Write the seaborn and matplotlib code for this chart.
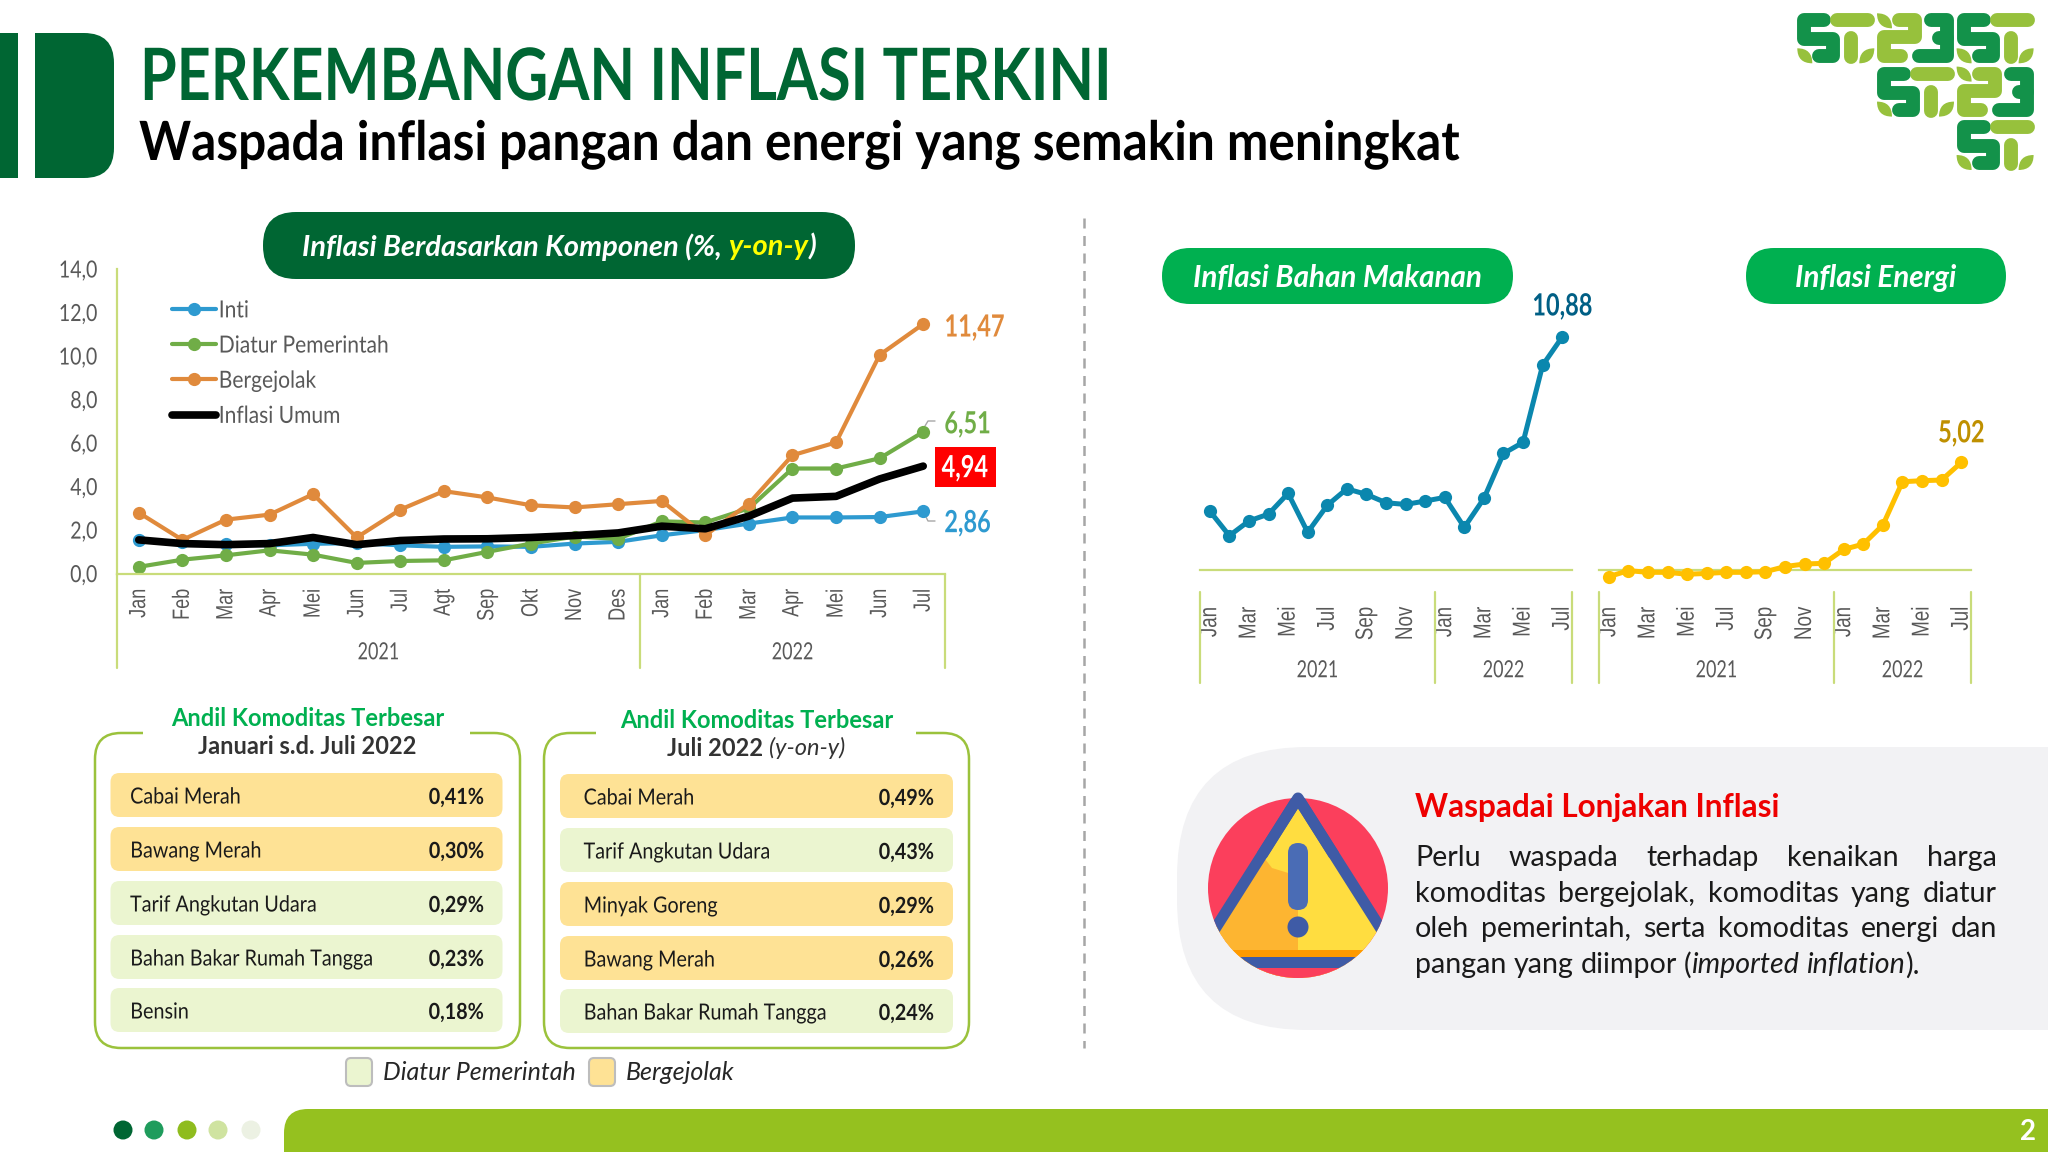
import matplotlib
matplotlib.use("Agg")
import matplotlib.pyplot as plt
import numpy as np
import pandas as pd
import seaborn as sns
from matplotlib.lines import Line2D
from matplotlib.patches import Circle, FancyBboxPatch, PathPatch, Polygon, Rectangle
from matplotlib.path import Path
from matplotlib.patheffects import AbstractPathEffect
from matplotlib.transforms import Affine2D

MONTHS_LONG = ["Jan", "Feb", "Mar", "Apr", "Mei", "Jun", "Jul", "Agt", "Sep", "Okt", "Nov", "Des",
               "Jan", "Feb", "Mar", "Apr", "Mei", "Jun", "Jul"]
MONTHS_SHORT = ["Jan", "", "Mar", "", "Mei", "", "Jul", "", "Sep", "", "Nov", "",
                "Jan", "", "Mar", "", "Mei", "", "Jul"]
Y_TICKS = [0, 2, 4, 6, 8, 10, 12, 14]

INTI = [1.55, 1.45, 1.35, 1.30, 1.37, 1.40, 1.30, 1.23, 1.25, 1.23, 1.38, 1.46, 1.76, 2.00, 2.30, 2.58, 2.58, 2.60, 2.86]
DIATUR = [0.31, 0.64, 0.84, 1.07, 0.87, 0.49, 0.58, 0.61, 1.00, 1.38, 1.70, 1.60, 2.40, 2.35, 3.00, 4.83, 4.83, 5.30, 6.51]
BERGEJOLAK = [2.80, 1.55, 2.48, 2.71, 3.65, 1.66, 2.94, 3.79, 3.50, 3.14, 3.04, 3.19, 3.34, 1.76, 3.22, 5.44, 6.03, 10.05, 11.47]
UMUM = [1.55, 1.38, 1.33, 1.38, 1.66, 1.33, 1.52, 1.59, 1.60, 1.66, 1.75, 1.87, 2.18, 2.06, 2.64, 3.47, 3.55, 4.35, 4.94]
BAHAN_MAKANAN = [2.75, 1.60, 2.29, 2.61, 3.58, 1.76, 3.02, 3.79, 3.53, 3.14, 3.06, 3.22, 3.39, 1.99, 3.34, 5.44, 5.96, 9.56, 10.88]
ENERGI = [-0.31, -0.03, -0.11, -0.11, -0.20, -0.16, -0.11, -0.11, -0.08, 0.16, 0.28, 0.31, 0.96, 1.21, 2.10, 4.12, 4.17, 4.20, 5.02]

ANDIL_YTD = ["Cabai Merah", "Bawang Merah", "Tarif Angkutan Udara", "Bahan Bakar Rumah Tangga", "Bensin"]
ANDIL_YTD_VAL = ["0,41%", "0,30%", "0,29%", "0,23%", "0,18%"]
ANDIL_YTD_KIND = ["b", "b", "d", "d", "d"]
ANDIL_YOY = ["Cabai Merah", "Tarif Angkutan Udara", "Minyak Goreng", "Bawang Merah", "Bahan Bakar Rumah Tangga"]
ANDIL_YOY_VAL = ["0,49%", "0,43%", "0,29%", "0,26%", "0,24%"]
ANDIL_YOY_KIND = ["b", "d", "b", "b", "d"]

DARK_GREEN = "#006633"
MID_GREEN = "#00b050"
AXIS_GREEN = "#c9dc7a"
GRAY = "#595959"
ROW_COLORS = {"b": "#fee295", "d": "#ebf5d0"}
ARIAL = ["Liberation Sans"]
BODY = ["Lato", "DejaVu Sans"]

sns.set_theme(style="white")
plt.rcParams["font.family"] = BODY

W, H = 2048, 1152
fig = plt.figure(figsize=(W / 100, H / 100), dpi=100, facecolor="white")
bg = fig.add_axes([0, 0, 1, 1], zorder=0)
bg.set_xlim(0, W)
bg.set_ylim(H, 0)
bg.axis("off")
renderer = fig.canvas.get_renderer()


class Squeeze(AbstractPathEffect):
    # the source slide is squashed sideways, so glyphs get scaled around one edge of the text
    def __init__(self, sx=1.0, anchor="left", width=None):
        super().__init__()
        self.sx, self.anchor, self.width = sx, anchor, width

    def draw_path(self, renderer, gc, tpath, affine, rgbFace=None):
        box = affine.transform_path(tpath).get_extents()
        pivot = {"left": box.x0, "center": (box.x0 + box.x1) / 2, "right": box.x1}[self.anchor]
        sx = self.width / box.width if self.width else self.sx
        scaled = affine + Affine2D().translate(-pivot, 0).scale(sx, 1).translate(pivot, 0)
        renderer.draw_path(gc, tpath, scaled, rgbFace)


def px_axes(x0, x1, top, bottom):
    ax = fig.add_axes([x0 / W, 1 - bottom / H, (x1 - x0) / W, (bottom - top) / H], zorder=2)
    ax.patch.set_alpha(0)
    return ax


def round_box(x0, y0, x1, y1, radius, **kwargs):
    patch = FancyBboxPatch((x0 + radius, y0 + radius), x1 - x0 - 2 * radius, y1 - y0 - 2 * radius,
                           boxstyle=f"round,pad={radius},rounding_size={radius}", **kwargs)
    bg.add_patch(patch)
    return patch


def runs(x, y, pieces, center=False, **kwargs):
    # pieces are (text, extra kwargs, gap after)
    items = []
    cursor = x
    for text, extra, gap in pieces:
        t = bg.text(cursor, y, text, va="center", ha="left", **kwargs, **extra)
        cursor += t.get_window_extent(renderer).width + gap
        items.append(t)
    if center:
        shift = (cursor - x) / 2
        for t in items:
            t.set_x(t.get_position()[0] - shift)


def justified(x0, x1, y, line, **kwargs):
    words = [bg.text(x0, y, w, va="center", ha="left", **kwargs) for w in line.split()]
    widths = [w.get_window_extent(renderer).width for w in words]
    gap = (x1 - x0 - sum(widths)) / (len(words) - 1)
    cursor = x0
    for word, width in zip(words, widths):
        word.set_x(cursor)
        cursor += width + gap


def draw_series(ax, values, color, label, size=9.5, width=3.0, marker="o"):
    frame = pd.DataFrame({"pos": np.arange(len(values)), "value": values})
    sns.lineplot(data=frame, x="pos", y="value", ax=ax, color=color, linewidth=width, marker=marker,
                 markersize=size, markeredgecolor=color, markeredgewidth=0, label=label,
                 estimator=None, sort=False, legend=False, clip_on=False)


def month_axis(ax, labels, split, font_size, year_y, line_bottom, line_top):
    # labels sit under the baseline, 2021 and 2022 are split by short rules
    n = len(labels)
    ax.set_xlim(-0.5, n - 0.5)
    ax.set_xticks(range(n))
    ax.set_xticklabels(labels, rotation=90, family=ARIAL, fontsize=font_size, color=GRAY)
    for tick_label in ax.get_xticklabels():
        tick_label.set_path_effects([Squeeze(1.3, "center")])
    ax.tick_params(axis="x", length=0)
    trans = ax.get_xaxis_transform()
    for xpos in (-0.5, split - 0.5, n - 0.5):
        ax.plot([xpos, xpos], [line_top, line_bottom], transform=trans, color=AXIS_GREEN, lw=1.6, clip_on=False)
    year_style = dict(transform=trans, ha="center", va="center", fontsize=17, color=GRAY,
                      path_effects=[Squeeze(0.76, "center")])
    ax.text((split - 1) / 2, year_y, "2021", **year_style)
    ax.text((split + n - 1) / 2, year_y, "2022", **year_style)
    ax.set_xlabel("")
    ax.set_ylabel("")


# header
bg.add_patch(Rectangle((0, 33), 18, 145, color=DARK_GREEN, lw=0))
round_box(35, 33, 114, 178, 30, facecolor=DARK_GREEN, edgecolor="none")
bg.add_patch(Rectangle((35, 33), 40, 145, color=DARK_GREEN, lw=0))
bg.text(139, 100, "PERKEMBANGAN INFLASI TERKINI", fontsize=52, fontweight="bold", color=DARK_GREEN, va="baseline",
        path_effects=[Squeeze(anchor="left", width=962)])
bg.text(139, 160, "Waspada inflasi pangan dan energi yang semakin meningkat", fontsize=39, fontweight="bold",
        color="black", va="baseline", path_effects=[Squeeze(anchor="left", width=1320)])


# logo tiles
LOGO_DARK = "#13924a"
LOGO_LIGHT = "#97c13c"


def stroke(points, color, ox, oy):
    xy = [(ox + a, oy + b) for a, b in points]
    path = Path(xy, [Path.MOVETO] + [Path.LINETO] * (len(xy) - 1))
    bg.add_patch(PathPatch(path, facecolor="none", edgecolor=color, lw=10, capstyle="round", joinstyle="round"))


def leaf(x0, y0, x1, y1, color, ox, oy, flip=False):
    a, b = (x0, y1), (x1, y0)
    if flip:
        a, b = (x0, y0), (x1, y1)
    mid1 = (a[0], b[1])
    mid2 = (b[0], a[1])
    verts = [a, mid1, b, mid2, a]
    verts = [(ox + p, oy + q) for p, q in verts]
    codes = [Path.MOVETO, Path.CURVE3, Path.CURVE3, Path.CURVE3, Path.CURVE3]
    bg.add_patch(PathPatch(Path(verts, codes), facecolor=color, edgecolor="none"))


def logo_st(ox, oy):
    stroke([(27, 7), (7, 7), (7, 26), (36, 26), (36, 43), (22, 43)], LOGO_DARK, ox, oy)
    leaf(0, 35, 15, 50, LOGO_LIGHT, ox, oy, flip=True)
    stroke([(40, 7), (71, 7)], LOGO_LIGHT, ox, oy)
    stroke([(54, 25), (54, 44)], LOGO_LIGHT, ox, oy)
    leaf(62, 35, 77, 50, LOGO_LIGHT, ox, oy)


def logo_23(ox, oy):
    leaf(0, 0, 15, 15, LOGO_LIGHT, ox, oy, flip=True)
    stroke([(22, 7), (38, 7), (38, 24), (7, 24), (7, 43), (24, 43)], LOGO_LIGHT, ox, oy)
    stroke([(54, 7), (70, 7), (70, 25), (62, 25)], LOGO_DARK, ox, oy)
    stroke([(70, 25), (70, 43), (42, 43)], LOGO_DARK, ox, oy)


for ox, oy, tile in [(0, 0, logo_st), (79.7, 0, logo_23), (159.3, 0, logo_st),
                     (79.7, 53.3, logo_st), (159.3, 53.3, logo_23), (159.3, 106.7, logo_st)]:
    tile(1797.3 + ox, 13.3 + oy)

# pills and divider
round_box(263, 212, 855, 279, 33, facecolor=DARK_GREEN, edgecolor="none")
pill_style = dict(fontweight="bold", fontstyle="italic")
runs(559, 247, [("Inflasi Berdasarkan Komponen (%,", {"color": "white"}, 7),
                ("y-on-y", {"color": "#ffff00"}, 0), (")", {"color": "white"}, 0)], center=True, fontsize=21, **pill_style)
round_box(1162, 248, 1513, 304, 28, facecolor=MID_GREEN, edgecolor="none")
bg.text(1337, 278, "Inflasi Bahan Makanan", color="white", ha="center", va="center", fontsize=21.3, **pill_style)
round_box(1746, 248, 2006, 304, 28, facecolor=MID_GREEN, edgecolor="none")
bg.text(1876, 278, "Inflasi Energi", color="white", ha="center", va="center", fontsize=21.3, **pill_style)
bg.plot([1084, 1084], [218, 1048], color="#a6a6a6", lw=1.8, ls=(0, (4, 3)))

# main chart
main = px_axes(117, 945, 269, 573.6)
draw_series(main, INTI, "#2e9ad0", "Inti")
draw_series(main, DIATUR, "#70ad47", "Diatur Pemerintah")
draw_series(main, BERGEJOLAK, "#e08a3c", "Bergejolak")
draw_series(main, UMUM, "black", "Inflasi Umum", width=5.5, marker=None)
main.set_ylim(0, 14)
main.set_yticks(Y_TICKS)
main.set_yticklabels([f"{v:.1f}".replace(".", ",") for v in Y_TICKS], fontsize=17, color=GRAY)
for tick_label in main.get_yticklabels():
    tick_label.set_path_effects([Squeeze(0.83, "right")])
main.tick_params(axis="y", length=0, pad=14)
main.tick_params(axis="x", pad=11)
sns.despine(ax=main)
for side in ("left", "bottom"):
    main.spines[side].set_color(AXIS_GREEN)
    main.spines[side].set_linewidth(1.6)
month_axis(main, MONTHS_LONG, 12, 13, -0.26, -0.31, 0)
handles = [Line2D([], [], color=c, lw=w, marker=m, markersize=9.5, markeredgewidth=0, label=name)
           for c, w, m, name in [("#2e9ad0", 3, "o", "Inti"), ("#70ad47", 3, "o", "Diatur Pemerintah"),
                                 ("#e08a3c", 3, "o", "Bergejolak"), ("black", 5.5, None, "Inflasi Umum")]]
leg = main.legend(handles=handles, loc="upper left", bbox_to_anchor=(0.067, 0.897), frameon=False, fontsize=17,
                  labelcolor=GRAY, handlelength=1.85, handletextpad=0.1, labelspacing=0.6, borderpad=0, borderaxespad=0)
for leg_text in leg.get_texts():
    leg_text.set_path_effects([Squeeze(0.89, "left")])


def end_label(ax, value, dx, color, size=22, dy=0):
    ax.annotate(f"{value:.2f}".replace(".", ","), (18, value), xytext=(dx, dy), textcoords="offset points",
                color=color, fontsize=size, fontweight="bold", va="center", ha="left", annotation_clip=False,
                path_effects=[Squeeze(0.77, "left")])


end_label(main, BERGEJOLAK[-1], 15, "#e08a3c", dy=-2.5)
end_label(main, DIATUR[-1], 15, "#70ad47", dy=5.5)
end_label(main, INTI[-1], 15, "#2e9ad0", dy=-8.5)
bg.add_patch(Rectangle((935, 447), 61, 40, color="#ff0000", lw=0, zorder=3))
main.annotate(f"{UMUM[-1]:.2f}".replace(".", ","), (18, UMUM[-1]), xytext=(30, -1.5), textcoords="offset points",
              color="white", fontsize=22, fontweight="bold", ha="center", va="center", annotation_clip=False,
              zorder=6, path_effects=[Squeeze(0.77, "center")])
main.set_zorder(4)
bg.plot([925, 928, 935], [426, 421, 421], color="#a6a6a6", lw=1, zorder=5)
bg.plot([925, 928, 935], [515, 521, 521], color="#a6a6a6", lw=1, zorder=5)

# right charts, same scale on both
for x0, x1, values, color, label_color, lift in [(1200, 1572, BAHAN_MAKANAN, "#0b87ae", "#005f85", 22),
                                                 (1599, 1971, ENERGI, "#ffc000", "#bf9000", 21)]:
    ax = px_axes(x0, x1, 313, 591.4)
    draw_series(ax, values, color, None, size=9.5, width=3.6)
    ax.set_ylim(-1, 12)
    ax.set_yticks([])
    sns.despine(ax=ax, left=True)
    ax.spines["bottom"].set_position(("data", 0))
    ax.spines["bottom"].set_color(AXIS_GREEN)
    ax.spines["bottom"].set_linewidth(1.6)
    month_axis(ax, MONTHS_SHORT, 12, 13.5, -0.285, -0.33, -0.003)
    ax.spines["bottom"].set_zorder(0)
    ax.tick_params(axis="x", pad=26.5)
    ax.annotate(f"{values[-1]:.2f}".replace(".", ","), (18, values[-1]), xytext=(0, lift), textcoords="offset points",
                color=label_color, fontsize=22, fontweight="bold", ha="center", va="center", annotation_clip=False,
                path_effects=[Squeeze(0.77, "center")])


# contribution tables
def table(x0, x1, gap0, gap1, title_y, sub_pieces, rows_x0, rows_x1, tops, names, values, kinds, name_x, value_x):
    round_box(x0, 733, x1, 1048, 26, facecolor="white", edgecolor="#9bc23c", lw=1.8)
    bg.add_patch(Rectangle((gap0, 725), gap1 - gap0, 16, color="white", lw=0, zorder=2))
    center = (x0 + x1) / 2
    bg.text(center, title_y, "Andil Komoditas Terbesar", fontsize=17, fontweight="bold", color=MID_GREEN,
            ha="center", va="center", zorder=3)
    runs(center, title_y + 28, sub_pieces, center=True, fontsize=17, color="#333333", zorder=3)
    for top, name, value, kind in zip(tops, names, values, kinds):
        round_box(rows_x0, top, rows_x1, top + 44, 9, facecolor=ROW_COLORS[kind], edgecolor="none")
        bg.text(name_x, top + 24.5, name, fontsize=16, color="#1a1a1a", va="center",
                path_effects=[Squeeze(0.89, "left")])
        bg.text(value_x, top + 24.5, value, fontsize=16, fontweight="bold", color="#1a1a1a", va="center", ha="right",
                path_effects=[Squeeze(0.89, "right")])


table(95, 520, 143, 470, 718, [("Januari s.d. Juli 2022", {"fontweight": "bold"}, 0)], 110.5, 502.5,
      [773, 827, 881, 935, 988], ANDIL_YTD, ANDIL_YTD_VAL, ANDIL_YTD_KIND, 130, 484)
table(544, 969, 596, 916, 720, [("Juli 2022", {"fontweight": "bold"}, 6), ("(y-on-y)", {"fontstyle": "italic"}, 0)],
      560, 953, [774, 828, 882, 936, 989], ANDIL_YOY, ANDIL_YOY_VAL, ANDIL_YOY_KIND, 583.5, 934)

round_box(346, 1058, 372, 1086, 5, facecolor=ROW_COLORS["d"], edgecolor="#bdbdbd", lw=1.5)
round_box(589, 1058, 615, 1086, 5, facecolor=ROW_COLORS["b"], edgecolor="#bdbdbd", lw=1.5)
bg.text(383, 1072, "Diatur Pemerintah", fontsize=18, fontstyle="italic", color="#262626", va="center")
bg.text(626, 1073, "Bergejolak", fontsize=18, fontstyle="italic", color="#262626", va="center")

# warning panel
BLUE_ICON = "#3f5ba6"
round_box(1177, 747, 2200, 1030, 130, facecolor="#f2f2f4", edgecolor="none")
disc = Circle((1298, 888), 90, color="#fb3f5c", lw=0)
bg.add_patch(disc)
tri_fill = Polygon([(1298, 798), (1170, 1000), (1426, 1000)], closed=True, facecolor="#ffdd40", edgecolor="none", zorder=3)
bg.add_patch(tri_fill)
tri_fill.set_clip_path(disc)
shade = Polygon([(1262, 855), (1272, 868), (1298, 876), (1298, 1000), (1170, 1000)], closed=True, facecolor="#fdb531",
                edgecolor="none", zorder=3.1)
bg.add_patch(shade)
shade.set_clip_path(disc)
tri_line = Polygon([(1298, 798), (1170, 1000), (1426, 1000)], closed=True, facecolor="none", edgecolor=BLUE_ICON,
                   lw=8, joinstyle="round", zorder=3.2)
bg.add_patch(tri_line)
tri_line.set_clip_path(disc)
bg.plot([1262, 1298, 1334], [855, 798, 855], color=BLUE_ICON, lw=8, solid_joinstyle="round", solid_capstyle="butt",
        zorder=3.5)
for y0, y1, col, zo in [(950, 957, "#ff9a00", 4), (957, 968, BLUE_ICON, 4), (968, 990, "#fb3f5c", 4)]:
    band = Rectangle((1170, y0), 260, y1 - y0, color=col, lw=0, zorder=zo)
    bg.add_patch(band)
    band.set_clip_path(disc)
round_box(1288, 843, 1308, 910, 10, facecolor="#4a6cb5", edgecolor="none", zorder=5)
bg.add_patch(Circle((1298, 927), 10.5, color=BLUE_ICON, lw=0, zorder=5))

bg.text(1415, 808, "Waspadai Lonjakan Inflasi", fontsize=22.7, fontweight="bold", color="#ee0000", va="center")
body_style = dict(fontsize=20.6, color="#1a1a1a")
justified(1415, 1997, 858, "Perlu waspada terhadap kenaikan harga", **body_style)
justified(1415, 1997, 894, "komoditas bergejolak, komoditas yang diatur", **body_style)
justified(1415, 1997, 929, "oleh pemerintah, serta komoditas energi dan", **body_style)
runs(1415, 965, [("pangan", {}, 7), ("yang", {}, 7), ("diimpor", {}, 7), ("(", {}, 0),
                 ("imported", {"fontstyle": "italic"}, 7), ("inflation", {"fontstyle": "italic"}, 0), (").", {}, 0)],
     **body_style)

# footer
for xpos, col in zip([123, 154, 187, 218, 251], ["#006633", "#1f9c5c", "#8fbc1e", "#cfe3a0", "#ecf1e3"]):
    bg.add_patch(Circle((xpos, 1130), 9.5, color=col, lw=0))
round_box(284, 1109, 2200, 1195, 24, facecolor="#95c11f", edgecolor="none")
bg.text(2028, 1132, "2", fontsize=20, fontweight="bold", color="white", ha="center", va="center")

fig.savefig("out.png", dpi=100, facecolor="white")
